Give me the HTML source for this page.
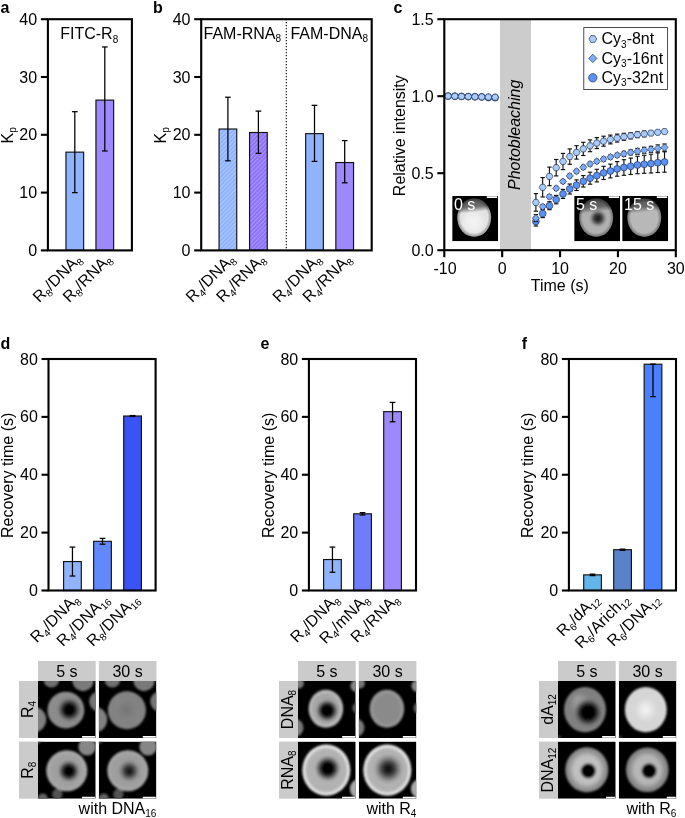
<!DOCTYPE html>
<html lang="en">
<head>
<meta charset="utf-8">
<title>Figure</title>
<style>
html,body{margin:0;padding:0;background:#fff;}
body{width:685px;height:818px;overflow:hidden;}
svg{display:block;font-family:"Liberation Sans",Arial,Helvetica,sans-serif;}
</style>
</head>
<body>
<svg width="685" height="818" viewBox="0 0 685 818">
<defs>
<pattern id="h1" width="3" height="3" patternUnits="userSpaceOnUse" patternTransform="rotate(45)"><rect width="3" height="3" fill="#8cb0fd"/><rect width="1.2" height="3" fill="#adc8ff"/></pattern>
<pattern id="h2" width="3" height="3" patternUnits="userSpaceOnUse" patternTransform="rotate(45)"><rect width="3" height="3" fill="#8b6ff8"/><rect width="1.2" height="3" fill="#aa95ff"/></pattern>
<clipPath id="clipf"><rect x="568.9" y="359" width="107.1" height="231.5"/></clipPath>
<filter id="bl" x="-20%" y="-20%" width="140%" height="140%"><feGaussianBlur stdDeviation="1.05"/></filter>
<filter id="bl2" x="-20%" y="-20%" width="140%" height="140%"><feGaussianBlur stdDeviation="0.7"/></filter>
<clipPath id="c1"><rect x="452.2" y="195.9" width="46" height="45.4"/></clipPath>
<linearGradient id="g1" x1="0.45" y1="0" x2="0.55" y2="1"><stop offset="0" stop-color="#585858"/><stop offset="0.22" stop-color="#6e6e6e"/><stop offset="0.36" stop-color="#e4e4e4"/><stop offset="1" stop-color="#e4e4e4"/></linearGradient>
<radialGradient id="g2" cx="0.5" cy="0.5" r="0.5"><stop offset="0" stop-color="rgba(0,0,0,0)"/><stop offset="0.8" stop-color="rgba(0,0,0,0)"/><stop offset="0.93" stop-color="rgba(0,0,0,0.25)"/><stop offset="1" stop-color="rgba(0,0,0,0.3)"/></radialGradient>
<radialGradient id="g3" cx="0.5" cy="0.5" r="0.5"><stop offset="0" stop-color="rgba(255,255,255,0.6)"/><stop offset="0.6" stop-color="rgba(255,255,255,0.36)"/><stop offset="1" stop-color="rgba(255,255,255,0)"/></radialGradient>
<clipPath id="c2"><rect x="574.2" y="195.9" width="46" height="45.4"/></clipPath>
<linearGradient id="g4" x1="0.45" y1="0" x2="0.55" y2="1"><stop offset="0" stop-color="#505050"/><stop offset="0.22" stop-color="#646464"/><stop offset="0.36" stop-color="#b0b0b0"/><stop offset="1" stop-color="#b0b0b0"/></linearGradient>
<radialGradient id="g5" cx="0.5" cy="0.5" r="0.5"><stop offset="0" stop-color="rgba(0,0,0,0)"/><stop offset="0.8" stop-color="rgba(0,0,0,0)"/><stop offset="0.93" stop-color="rgba(0,0,0,0.25)"/><stop offset="1" stop-color="rgba(0,0,0,0.3)"/></radialGradient>
<radialGradient id="g6" cx="0.5" cy="0.5" r="0.5"><stop offset="0" stop-color="rgba(0,0,0,0.8)"/><stop offset="0.2" stop-color="rgba(0,0,0,0.78)"/><stop offset="0.44" stop-color="rgba(0,0,0,0.58)"/><stop offset="0.64" stop-color="rgba(0,0,0,0.3)"/><stop offset="0.84" stop-color="rgba(0,0,0,0.08)"/><stop offset="1" stop-color="rgba(0,0,0,0)"/></radialGradient>
<clipPath id="c3"><rect x="622.2" y="195.9" width="46" height="45.4"/></clipPath>
<linearGradient id="g7" x1="0.45" y1="0" x2="0.55" y2="1"><stop offset="0" stop-color="#545454"/><stop offset="0.22" stop-color="#696969"/><stop offset="0.36" stop-color="#b8b8b8"/><stop offset="1" stop-color="#b8b8b8"/></linearGradient>
<radialGradient id="g8" cx="0.5" cy="0.5" r="0.5"><stop offset="0" stop-color="rgba(0,0,0,0)"/><stop offset="0.8" stop-color="rgba(0,0,0,0)"/><stop offset="0.93" stop-color="rgba(0,0,0,0.25)"/><stop offset="1" stop-color="rgba(0,0,0,0.3)"/></radialGradient>
<clipPath id="c4"><rect x="38" y="681" width="57.7" height="57"/></clipPath>
<radialGradient id="g9" cx="0.5" cy="0.5" r="0.5"><stop offset="0" stop-color="rgba(0,0,0,1)"/><stop offset="0.33" stop-color="rgba(0,0,0,0.97)"/><stop offset="0.53" stop-color="rgba(0,0,0,0.72)"/><stop offset="0.7" stop-color="rgba(0,0,0,0.38)"/><stop offset="0.87" stop-color="rgba(0,0,0,0.1)"/><stop offset="1" stop-color="rgba(0,0,0,0)"/></radialGradient>
<clipPath id="c5"><rect x="98.8" y="681" width="57.6" height="57"/></clipPath>
<radialGradient id="g10" cx="0.5" cy="0.5" r="0.5"><stop offset="0" stop-color="#767676"/><stop offset="0.55" stop-color="#838383"/><stop offset="1" stop-color="#838383"/></radialGradient>
<clipPath id="c6"><rect x="38" y="741.6" width="57.7" height="57.1"/></clipPath>
<radialGradient id="g11" cx="0.5" cy="0.5" r="0.5"><stop offset="0" stop-color="#a0a0a0"/><stop offset="0.72" stop-color="#a0a0a0"/><stop offset="0.92" stop-color="#a8a8a8"/><stop offset="1" stop-color="#a8a8a8"/></radialGradient>
<radialGradient id="g12" cx="0.5" cy="0.5" r="0.5"><stop offset="0" stop-color="rgba(0,0,0,1)"/><stop offset="0.33" stop-color="rgba(0,0,0,0.97)"/><stop offset="0.53" stop-color="rgba(0,0,0,0.72)"/><stop offset="0.7" stop-color="rgba(0,0,0,0.38)"/><stop offset="0.87" stop-color="rgba(0,0,0,0.1)"/><stop offset="1" stop-color="rgba(0,0,0,0)"/></radialGradient>
<clipPath id="c7"><rect x="98.8" y="741.6" width="57.6" height="57.1"/></clipPath>
<radialGradient id="g13" cx="0.5" cy="0.5" r="0.5"><stop offset="0" stop-color="#9e9e9e"/><stop offset="0.72" stop-color="#9e9e9e"/><stop offset="0.92" stop-color="#a6a6a6"/><stop offset="1" stop-color="#a6a6a6"/></radialGradient>
<radialGradient id="g14" cx="0.5" cy="0.5" r="0.5"><stop offset="0" stop-color="rgba(0,0,0,0.86)"/><stop offset="0.15" stop-color="rgba(0,0,0,0.83)"/><stop offset="0.41" stop-color="rgba(0,0,0,0.62)"/><stop offset="0.62" stop-color="rgba(0,0,0,0.33)"/><stop offset="0.83" stop-color="rgba(0,0,0,0.09)"/><stop offset="1" stop-color="rgba(0,0,0,0)"/></radialGradient>
<clipPath id="c8"><rect x="298" y="681" width="57.7" height="57"/></clipPath>
<radialGradient id="g15" cx="0.5" cy="0.5" r="0.5"><stop offset="0" stop-color="#a6a6a6"/><stop offset="0.72" stop-color="#a6a6a6"/><stop offset="0.92" stop-color="#bababa"/><stop offset="1" stop-color="#bababa"/></radialGradient>
<radialGradient id="g16" cx="0.5" cy="0.5" r="0.5"><stop offset="0" stop-color="rgba(0,0,0,1)"/><stop offset="0.4" stop-color="rgba(0,0,0,0.97)"/><stop offset="0.58" stop-color="rgba(0,0,0,0.72)"/><stop offset="0.73" stop-color="rgba(0,0,0,0.38)"/><stop offset="0.88" stop-color="rgba(0,0,0,0.1)"/><stop offset="1" stop-color="rgba(0,0,0,0)"/></radialGradient>
<clipPath id="c9"><rect x="358.8" y="681" width="57.6" height="57"/></clipPath>
<radialGradient id="g17" cx="0.5" cy="0.5" r="0.5"><stop offset="0" stop-color="#8a8a8a"/><stop offset="0.72" stop-color="#8a8a8a"/><stop offset="0.92" stop-color="#989898"/><stop offset="1" stop-color="#989898"/></radialGradient>
<clipPath id="c10"><rect x="298" y="741.6" width="57.7" height="57.1"/></clipPath>
<radialGradient id="g18" cx="0.5" cy="0.5" r="0.5"><stop offset="0" stop-color="#b2b2b2"/><stop offset="0.81" stop-color="#b2b2b2"/><stop offset="0.94" stop-color="#eaeaea"/><stop offset="1" stop-color="#eaeaea"/></radialGradient>
<radialGradient id="g19" cx="0.5" cy="0.5" r="0.5"><stop offset="0" stop-color="rgba(0,0,0,1)"/><stop offset="0.36" stop-color="rgba(0,0,0,0.97)"/><stop offset="0.55" stop-color="rgba(0,0,0,0.72)"/><stop offset="0.71" stop-color="rgba(0,0,0,0.38)"/><stop offset="0.87" stop-color="rgba(0,0,0,0.1)"/><stop offset="1" stop-color="rgba(0,0,0,0)"/></radialGradient>
<clipPath id="c11"><rect x="358.8" y="741.6" width="57.6" height="57.1"/></clipPath>
<radialGradient id="g20" cx="0.5" cy="0.5" r="0.5"><stop offset="0" stop-color="#b2b2b2"/><stop offset="0.81" stop-color="#b2b2b2"/><stop offset="0.94" stop-color="#eaeaea"/><stop offset="1" stop-color="#eaeaea"/></radialGradient>
<radialGradient id="g21" cx="0.5" cy="0.5" r="0.5"><stop offset="0" stop-color="rgba(0,0,0,0.9)"/><stop offset="0.15" stop-color="rgba(0,0,0,0.87)"/><stop offset="0.41" stop-color="rgba(0,0,0,0.65)"/><stop offset="0.62" stop-color="rgba(0,0,0,0.34)"/><stop offset="0.83" stop-color="rgba(0,0,0,0.09)"/><stop offset="1" stop-color="rgba(0,0,0,0)"/></radialGradient>
<clipPath id="c12"><rect x="558" y="681" width="57.7" height="57"/></clipPath>
<radialGradient id="g22" cx="0.5" cy="0.5" r="0.5" fx="0.3" fy="0.25"><stop offset="0" stop-color="#9e9e9e"/><stop offset="0.55" stop-color="#808080"/><stop offset="1" stop-color="#808080"/></radialGradient>
<radialGradient id="g23" cx="0.5" cy="0.5" r="0.5"><stop offset="0" stop-color="rgba(0,0,0,1)"/><stop offset="0.4" stop-color="rgba(0,0,0,0.97)"/><stop offset="0.58" stop-color="rgba(0,0,0,0.72)"/><stop offset="0.73" stop-color="rgba(0,0,0,0.38)"/><stop offset="0.88" stop-color="rgba(0,0,0,0.1)"/><stop offset="1" stop-color="rgba(0,0,0,0)"/></radialGradient>
<clipPath id="c13"><rect x="618.8" y="681" width="57.6" height="57"/></clipPath>
<radialGradient id="g24" cx="0.5" cy="0.5" r="0.5"><stop offset="0" stop-color="#f4f4f4"/><stop offset="0.55" stop-color="#d6d6d6"/><stop offset="1" stop-color="#d6d6d6"/></radialGradient>
<clipPath id="c14"><rect x="558" y="741.6" width="57.7" height="57.1"/></clipPath>
<radialGradient id="g25" cx="0.5" cy="0.5" r="0.5"><stop offset="0" stop-color="#c0c0c0"/><stop offset="0.6" stop-color="#c0c0c0"/><stop offset="0.88" stop-color="#8c8c8c"/><stop offset="1" stop-color="#8c8c8c"/></radialGradient>
<radialGradient id="g26" cx="0.5" cy="0.5" r="0.5"><stop offset="0" stop-color="rgba(0,0,0,1)"/><stop offset="0.68" stop-color="rgba(0,0,0,0.97)"/><stop offset="0.78" stop-color="rgba(0,0,0,0.72)"/><stop offset="0.86" stop-color="rgba(0,0,0,0.38)"/><stop offset="0.94" stop-color="rgba(0,0,0,0.1)"/><stop offset="1" stop-color="rgba(0,0,0,0)"/></radialGradient>
<clipPath id="c15"><rect x="618.8" y="741.6" width="57.6" height="57.1"/></clipPath>
<radialGradient id="g27" cx="0.5" cy="0.5" r="0.5"><stop offset="0" stop-color="#b6b6b6"/><stop offset="0.6" stop-color="#b6b6b6"/><stop offset="0.88" stop-color="#868686"/><stop offset="1" stop-color="#868686"/></radialGradient>
<radialGradient id="g28" cx="0.5" cy="0.5" r="0.5"><stop offset="0" stop-color="rgba(0,0,0,1)"/><stop offset="0.68" stop-color="rgba(0,0,0,0.97)"/><stop offset="0.78" stop-color="rgba(0,0,0,0.72)"/><stop offset="0.86" stop-color="rgba(0,0,0,0.38)"/><stop offset="0.94" stop-color="rgba(0,0,0,0.1)"/><stop offset="1" stop-color="rgba(0,0,0,0)"/></radialGradient>
</defs>
<rect width="685" height="818" fill="#fff"/>
<text font-size="16" font-weight="bold" x="0.6" y="12.9">a</text>
<rect x="65.95" y="152.14" width="17.7" height="98.26" fill="#91b3fd" stroke="#111" stroke-width="1.15"/>
<line x1="74.8" y1="111.68" x2="74.8" y2="192.6" stroke="#000" stroke-width="1.25"/>
<line x1="71.95" y1="111.68" x2="77.65" y2="111.68" stroke="#000" stroke-width="1.25"/>
<line x1="71.95" y1="192.6" x2="77.65" y2="192.6" stroke="#000" stroke-width="1.25"/>
<rect x="95.95" y="100.12" width="17.7" height="150.28" fill="#9d89fb" stroke="#111" stroke-width="1.15"/>
<line x1="104.8" y1="46.94" x2="104.8" y2="150.98" stroke="#000" stroke-width="1.25"/>
<line x1="101.95" y1="46.94" x2="107.65" y2="46.94" stroke="#000" stroke-width="1.25"/>
<line x1="101.95" y1="150.98" x2="107.65" y2="150.98" stroke="#000" stroke-width="1.25"/>
<rect x="47.9" y="19.2" width="84" height="231.2" fill="none" stroke="#000" stroke-width="2.1"/>
<line x1="40.9" y1="250.4" x2="47.9" y2="250.4" stroke="#000" stroke-width="2.1"/>
<text font-size="16" text-anchor="end" x="37.1" y="255.9">0</text>
<line x1="40.9" y1="192.6" x2="47.9" y2="192.6" stroke="#000" stroke-width="2.1"/>
<text font-size="16" text-anchor="end" x="37.1" y="198.1">10</text>
<line x1="40.9" y1="134.8" x2="47.9" y2="134.8" stroke="#000" stroke-width="2.1"/>
<text font-size="16" text-anchor="end" x="37.1" y="140.3">20</text>
<line x1="40.9" y1="77" x2="47.9" y2="77" stroke="#000" stroke-width="2.1"/>
<text font-size="16" text-anchor="end" x="37.1" y="82.5">30</text>
<line x1="40.9" y1="19.2" x2="47.9" y2="19.2" stroke="#000" stroke-width="2.1"/>
<text font-size="16" text-anchor="end" x="37.1" y="24.7">40</text>
<text font-size="16" text-anchor="middle" transform="translate(12.9 135.4) rotate(-90)">K<tspan font-size="10" dy="3.4">p</tspan></text>
<text font-size="16" text-anchor="end" transform="translate(82.3 260.2) rotate(-45)">R<tspan font-size="10" dy="3.4">8</tspan><tspan dy="-3.4">/DNA</tspan><tspan font-size="10" dy="3.4">8</tspan></text>
<text font-size="16" text-anchor="end" transform="translate(112.3 260.2) rotate(-45)">R<tspan font-size="10" dy="3.4">8</tspan><tspan dy="-3.4">/RNA</tspan><tspan font-size="10" dy="3.4">8</tspan></text>
<text font-size="16" text-anchor="middle" x="89.2" y="39.2">FITC-R<tspan font-size="10" dy="3.4">8</tspan></text>
<text font-size="16" font-weight="bold" x="153" y="12.9">b</text>
<rect x="219.05" y="129.02" width="17.7" height="121.38" fill="url(#h1)" stroke="#111" stroke-width="1.15"/>
<line x1="227.9" y1="97.23" x2="227.9" y2="160.81" stroke="#000" stroke-width="1.25"/>
<line x1="225.05" y1="97.23" x2="230.75" y2="97.23" stroke="#000" stroke-width="1.25"/>
<line x1="225.05" y1="160.81" x2="230.75" y2="160.81" stroke="#000" stroke-width="1.25"/>
<rect x="249.55" y="132.49" width="17.7" height="117.91" fill="url(#h2)" stroke="#111" stroke-width="1.15"/>
<line x1="258.4" y1="111.1" x2="258.4" y2="153.3" stroke="#000" stroke-width="1.25"/>
<line x1="255.55" y1="111.1" x2="261.25" y2="111.1" stroke="#000" stroke-width="1.25"/>
<line x1="255.55" y1="153.3" x2="261.25" y2="153.3" stroke="#000" stroke-width="1.25"/>
<rect x="305.65" y="133.64" width="17.7" height="116.76" fill="#91b3fd" stroke="#111" stroke-width="1.15"/>
<line x1="314.5" y1="105.32" x2="314.5" y2="161.39" stroke="#000" stroke-width="1.25"/>
<line x1="311.65" y1="105.32" x2="317.35" y2="105.32" stroke="#000" stroke-width="1.25"/>
<line x1="311.65" y1="161.39" x2="317.35" y2="161.39" stroke="#000" stroke-width="1.25"/>
<rect x="335.85" y="162.54" width="17.7" height="87.86" fill="#9d89fb" stroke="#111" stroke-width="1.15"/>
<line x1="344.7" y1="140.58" x2="344.7" y2="182.77" stroke="#000" stroke-width="1.25"/>
<line x1="341.85" y1="140.58" x2="347.55" y2="140.58" stroke="#000" stroke-width="1.25"/>
<line x1="341.85" y1="182.77" x2="347.55" y2="182.77" stroke="#000" stroke-width="1.25"/>
<rect x="201.2" y="19.2" width="170.5" height="231.2" fill="none" stroke="#000" stroke-width="2.1"/>
<line x1="194.2" y1="250.4" x2="201.2" y2="250.4" stroke="#000" stroke-width="2.1"/>
<text font-size="16" text-anchor="end" x="190.5" y="255.9">0</text>
<line x1="194.2" y1="192.6" x2="201.2" y2="192.6" stroke="#000" stroke-width="2.1"/>
<text font-size="16" text-anchor="end" x="190.5" y="198.1">10</text>
<line x1="194.2" y1="134.8" x2="201.2" y2="134.8" stroke="#000" stroke-width="2.1"/>
<text font-size="16" text-anchor="end" x="190.5" y="140.3">20</text>
<line x1="194.2" y1="77" x2="201.2" y2="77" stroke="#000" stroke-width="2.1"/>
<text font-size="16" text-anchor="end" x="190.5" y="82.5">30</text>
<line x1="194.2" y1="19.2" x2="201.2" y2="19.2" stroke="#000" stroke-width="2.1"/>
<text font-size="16" text-anchor="end" x="190.5" y="24.7">40</text>
<text font-size="16" text-anchor="middle" transform="translate(165.6 135.4) rotate(-90)">K<tspan font-size="10" dy="3.4">p</tspan></text>
<text font-size="16" text-anchor="end" transform="translate(235.4 260.2) rotate(-45)">R<tspan font-size="10" dy="3.4">4</tspan><tspan dy="-3.4">/DNA</tspan><tspan font-size="10" dy="3.4">8</tspan></text>
<text font-size="16" text-anchor="end" transform="translate(265.9 260.2) rotate(-45)">R<tspan font-size="10" dy="3.4">4</tspan><tspan dy="-3.4">/RNA</tspan><tspan font-size="10" dy="3.4">8</tspan></text>
<text font-size="16" text-anchor="end" transform="translate(322 260.2) rotate(-45)">R<tspan font-size="10" dy="3.4">4</tspan><tspan dy="-3.4">/DNA</tspan><tspan font-size="10" dy="3.4">8</tspan></text>
<text font-size="16" text-anchor="end" transform="translate(352.2 260.2) rotate(-45)">R<tspan font-size="10" dy="3.4">4</tspan><tspan dy="-3.4">/RNA</tspan><tspan font-size="10" dy="3.4">8</tspan></text>
<line x1="286.3" y1="19" x2="286.3" y2="250" stroke="#000" stroke-width="1.1" stroke-dasharray="1.3 1.7"/>
<text font-size="16" text-anchor="middle" x="242.3" y="39">FAM-RNA<tspan font-size="10" dy="3.4">8</tspan></text>
<text font-size="16" text-anchor="middle" x="329.2" y="39">FAM-DNA<tspan font-size="10" dy="3.4">8</tspan></text>
<text font-size="16" font-weight="bold" x="0.6" y="348.9">d</text>
<rect x="63.6" y="561.56" width="17.7" height="28.94" fill="#91b3fd" stroke="#111" stroke-width="1.15"/>
<line x1="72.45" y1="547.09" x2="72.45" y2="576.03" stroke="#000" stroke-width="1.25"/>
<line x1="69.6" y1="547.09" x2="75.3" y2="547.09" stroke="#000" stroke-width="1.25"/>
<line x1="69.6" y1="576.03" x2="75.3" y2="576.03" stroke="#000" stroke-width="1.25"/>
<rect x="93.65" y="541.31" width="17.7" height="49.19" fill="#6289fb" stroke="#111" stroke-width="1.15"/>
<line x1="102.5" y1="538.41" x2="102.5" y2="544.2" stroke="#000" stroke-width="1.25"/>
<line x1="99.65" y1="538.41" x2="105.35" y2="538.41" stroke="#000" stroke-width="1.25"/>
<line x1="99.65" y1="544.2" x2="105.35" y2="544.2" stroke="#000" stroke-width="1.25"/>
<rect x="123.7" y="416.01" width="17.7" height="174.49" fill="#3b53f5" stroke="#111" stroke-width="1.15"/>
<line x1="132.55" y1="415.57" x2="132.55" y2="416.44" stroke="#000" stroke-width="1.25"/>
<line x1="129.7" y1="415.57" x2="135.4" y2="415.57" stroke="#000" stroke-width="1.25"/>
<line x1="129.7" y1="416.44" x2="135.4" y2="416.44" stroke="#000" stroke-width="1.25"/>
<rect x="48.5" y="359" width="107.1" height="231.5" fill="none" stroke="#000" stroke-width="2.1"/>
<line x1="41.5" y1="590.5" x2="48.5" y2="590.5" stroke="#000" stroke-width="2.1"/>
<text font-size="16" text-anchor="end" x="37.8" y="596">0</text>
<line x1="41.5" y1="532.62" x2="48.5" y2="532.62" stroke="#000" stroke-width="2.1"/>
<text font-size="16" text-anchor="end" x="37.8" y="538.12">20</text>
<line x1="41.5" y1="474.75" x2="48.5" y2="474.75" stroke="#000" stroke-width="2.1"/>
<text font-size="16" text-anchor="end" x="37.8" y="480.25">40</text>
<line x1="41.5" y1="416.88" x2="48.5" y2="416.88" stroke="#000" stroke-width="2.1"/>
<text font-size="16" text-anchor="end" x="37.8" y="422.38">60</text>
<line x1="41.5" y1="359" x2="48.5" y2="359" stroke="#000" stroke-width="2.1"/>
<text font-size="16" text-anchor="end" x="37.8" y="364.5">80</text>
<text font-size="16" text-anchor="middle" transform="translate(13 475.35) rotate(-90)">Recovery time (s)</text>
<text font-size="16" text-anchor="end" transform="translate(79.95 600.3) rotate(-45)">R<tspan font-size="10" dy="3.4">4</tspan><tspan dy="-3.4">/DNA</tspan><tspan font-size="10" dy="3.4">8</tspan></text>
<text font-size="16" text-anchor="end" transform="translate(110 600.3) rotate(-45)">R<tspan font-size="10" dy="3.4">4</tspan><tspan dy="-3.4">/DNA</tspan><tspan font-size="10" dy="3.4">16</tspan></text>
<text font-size="16" text-anchor="end" transform="translate(140.05 600.3) rotate(-45)">R<tspan font-size="10" dy="3.4">8</tspan><tspan dy="-3.4">/DNA</tspan><tspan font-size="10" dy="3.4">16</tspan></text>
<text font-size="16" font-weight="bold" x="260.5" y="348.9">e</text>
<rect x="323.6" y="559.54" width="17.7" height="30.96" fill="#91b3fd" stroke="#111" stroke-width="1.15"/>
<line x1="332.45" y1="547.09" x2="332.45" y2="572.27" stroke="#000" stroke-width="1.25"/>
<line x1="329.6" y1="547.09" x2="335.3" y2="547.09" stroke="#000" stroke-width="1.25"/>
<line x1="329.6" y1="572.27" x2="335.3" y2="572.27" stroke="#000" stroke-width="1.25"/>
<rect x="353.7" y="513.82" width="17.7" height="76.68" fill="#6f7dfa" stroke="#111" stroke-width="1.15"/>
<line x1="362.55" y1="512.66" x2="362.55" y2="514.97" stroke="#000" stroke-width="1.25"/>
<line x1="359.7" y1="512.66" x2="365.4" y2="512.66" stroke="#000" stroke-width="1.25"/>
<line x1="359.7" y1="514.97" x2="365.4" y2="514.97" stroke="#000" stroke-width="1.25"/>
<rect x="383.7" y="411.67" width="17.7" height="178.83" fill="#9d89fb" stroke="#111" stroke-width="1.15"/>
<line x1="392.55" y1="402.41" x2="392.55" y2="421.79" stroke="#000" stroke-width="1.25"/>
<line x1="389.7" y1="402.41" x2="395.4" y2="402.41" stroke="#000" stroke-width="1.25"/>
<line x1="389.7" y1="421.79" x2="395.4" y2="421.79" stroke="#000" stroke-width="1.25"/>
<rect x="308.9" y="359" width="107.1" height="231.5" fill="none" stroke="#000" stroke-width="2.1"/>
<line x1="301.9" y1="590.5" x2="308.9" y2="590.5" stroke="#000" stroke-width="2.1"/>
<text font-size="16" text-anchor="end" x="298.2" y="596">0</text>
<line x1="301.9" y1="532.62" x2="308.9" y2="532.62" stroke="#000" stroke-width="2.1"/>
<text font-size="16" text-anchor="end" x="298.2" y="538.12">20</text>
<line x1="301.9" y1="474.75" x2="308.9" y2="474.75" stroke="#000" stroke-width="2.1"/>
<text font-size="16" text-anchor="end" x="298.2" y="480.25">40</text>
<line x1="301.9" y1="416.88" x2="308.9" y2="416.88" stroke="#000" stroke-width="2.1"/>
<text font-size="16" text-anchor="end" x="298.2" y="422.38">60</text>
<line x1="301.9" y1="359" x2="308.9" y2="359" stroke="#000" stroke-width="2.1"/>
<text font-size="16" text-anchor="end" x="298.2" y="364.5">80</text>
<text font-size="16" text-anchor="middle" transform="translate(273.5 475.35) rotate(-90)">Recovery time (s)</text>
<text font-size="16" text-anchor="end" transform="translate(339.95 600.3) rotate(-45)">R<tspan font-size="10" dy="3.4">4</tspan><tspan dy="-3.4">/DNA</tspan><tspan font-size="10" dy="3.4">8</tspan></text>
<text font-size="16" text-anchor="end" transform="translate(370.05 600.3) rotate(-45)">R<tspan font-size="10" dy="3.4">4</tspan><tspan dy="-3.4">/mNA</tspan><tspan font-size="10" dy="3.4">8</tspan></text>
<text font-size="16" text-anchor="end" transform="translate(400.05 600.3) rotate(-45)">R<tspan font-size="10" dy="3.4">4</tspan><tspan dy="-3.4">/RNA</tspan><tspan font-size="10" dy="3.4">8</tspan></text>
<text font-size="16" font-weight="bold" x="521.7" y="348.9">f</text>
<g clip-path="url(#clipf)">
<rect x="583.7" y="574.87" width="17.7" height="15.63" fill="#62b5e8" stroke="#111" stroke-width="1.15"/>
<line x1="592.55" y1="574.01" x2="592.55" y2="575.74" stroke="#000" stroke-width="1.25"/>
<line x1="589.7" y1="574.01" x2="595.4" y2="574.01" stroke="#000" stroke-width="1.25"/>
<line x1="589.7" y1="575.74" x2="595.4" y2="575.74" stroke="#000" stroke-width="1.25"/>
<rect x="613.7" y="549.7" width="17.7" height="40.8" fill="#5a82c8" stroke="#111" stroke-width="1.15"/>
<line x1="622.55" y1="549.12" x2="622.55" y2="550.28" stroke="#000" stroke-width="1.25"/>
<line x1="619.7" y1="549.12" x2="625.4" y2="549.12" stroke="#000" stroke-width="1.25"/>
<line x1="619.7" y1="550.28" x2="625.4" y2="550.28" stroke="#000" stroke-width="1.25"/>
<rect x="644.15" y="364.21" width="17.7" height="226.29" fill="#4b80fc" stroke="#111" stroke-width="1.15"/>
<line x1="653" y1="364.21" x2="653" y2="396.62" stroke="#000" stroke-width="1.25"/>
<line x1="650.15" y1="364.21" x2="655.85" y2="364.21" stroke="#000" stroke-width="1.25"/>
<line x1="650.15" y1="396.62" x2="655.85" y2="396.62" stroke="#000" stroke-width="1.25"/>
</g>
<rect x="568.9" y="359" width="107.1" height="231.5" fill="none" stroke="#000" stroke-width="2.1"/>
<line x1="561.9" y1="590.5" x2="568.9" y2="590.5" stroke="#000" stroke-width="2.1"/>
<text font-size="16" text-anchor="end" x="558.2" y="596">0</text>
<line x1="561.9" y1="532.62" x2="568.9" y2="532.62" stroke="#000" stroke-width="2.1"/>
<text font-size="16" text-anchor="end" x="558.2" y="538.12">20</text>
<line x1="561.9" y1="474.75" x2="568.9" y2="474.75" stroke="#000" stroke-width="2.1"/>
<text font-size="16" text-anchor="end" x="558.2" y="480.25">40</text>
<line x1="561.9" y1="416.88" x2="568.9" y2="416.88" stroke="#000" stroke-width="2.1"/>
<text font-size="16" text-anchor="end" x="558.2" y="422.38">60</text>
<line x1="561.9" y1="359" x2="568.9" y2="359" stroke="#000" stroke-width="2.1"/>
<text font-size="16" text-anchor="end" x="558.2" y="364.5">80</text>
<text font-size="16" text-anchor="middle" transform="translate(533 475.35) rotate(-90)">Recovery time (s)</text>
<text font-size="16" text-anchor="end" transform="translate(600.05 600.3) rotate(-45)">R<tspan font-size="10" dy="3.4">6</tspan><tspan dy="-3.4">/dA</tspan><tspan font-size="10" dy="3.4">12</tspan></text>
<text font-size="16" text-anchor="end" transform="translate(630.05 600.3) rotate(-45)">R<tspan font-size="10" dy="3.4">6</tspan><tspan dy="-3.4">/Arich</tspan><tspan font-size="10" dy="3.4">12</tspan></text>
<text font-size="16" text-anchor="end" transform="translate(660.5 600.3) rotate(-45)">R<tspan font-size="10" dy="3.4">6</tspan><tspan dy="-3.4">/DNA</tspan><tspan font-size="10" dy="3.4">12</tspan></text>
<text font-size="16" font-weight="bold" x="393.5" y="12.9">c</text>
<rect x="500" y="19.2" width="31" height="231" fill="#cccccc"/>
<text font-size="16" text-anchor="middle" font-style="italic" transform="translate(520.44 134.8) rotate(-90)">Photobleaching</text>
<circle cx="448.1" cy="96.1" r="3.4" fill="#5b92f4" stroke="#26355c" stroke-width="0.7"/>
<circle cx="454.81" cy="96.26" r="3.4" fill="#5b92f4" stroke="#26355c" stroke-width="0.7"/>
<circle cx="461.53" cy="96.42" r="3.4" fill="#5b92f4" stroke="#26355c" stroke-width="0.7"/>
<circle cx="468.25" cy="96.58" r="3.4" fill="#5b92f4" stroke="#26355c" stroke-width="0.7"/>
<circle cx="474.96" cy="96.74" r="3.4" fill="#5b92f4" stroke="#26355c" stroke-width="0.7"/>
<circle cx="481.68" cy="96.9" r="3.4" fill="#5b92f4" stroke="#26355c" stroke-width="0.7"/>
<circle cx="488.39" cy="97.56" r="3.4" fill="#5b92f4" stroke="#26355c" stroke-width="0.7"/>
<circle cx="495.11" cy="97.72" r="3.4" fill="#5b92f4" stroke="#26355c" stroke-width="0.7"/>
<polygon points="448.1,92.6 451.6,96.1 448.1,99.6 444.6,96.1" fill="#7eacf7" stroke="#26355c" stroke-width="0.7"/>
<polygon points="454.81,92.76 458.31,96.26 454.81,99.76 451.31,96.26" fill="#7eacf7" stroke="#26355c" stroke-width="0.7"/>
<polygon points="461.53,92.92 465.03,96.42 461.53,99.92 458.03,96.42" fill="#7eacf7" stroke="#26355c" stroke-width="0.7"/>
<polygon points="468.25,93.08 471.75,96.58 468.25,100.08 464.75,96.58" fill="#7eacf7" stroke="#26355c" stroke-width="0.7"/>
<polygon points="474.96,93.24 478.46,96.74 474.96,100.24 471.46,96.74" fill="#7eacf7" stroke="#26355c" stroke-width="0.7"/>
<polygon points="481.68,93.4 485.18,96.9 481.68,100.4 478.18,96.9" fill="#7eacf7" stroke="#26355c" stroke-width="0.7"/>
<polygon points="488.39,93.56 491.89,97.06 488.39,100.56 484.89,97.06" fill="#7eacf7" stroke="#26355c" stroke-width="0.7"/>
<polygon points="495.11,93.72 498.61,97.22 495.11,100.72 491.61,97.22" fill="#7eacf7" stroke="#26355c" stroke-width="0.7"/>
<polygon points="451.6,96.1 449.85,99.13 446.35,99.13 444.6,96.1 446.35,93.07 449.85,93.07" fill="#a9ccfb" stroke="#26355c" stroke-width="0.7"/>
<polygon points="458.31,96.26 456.56,99.29 453.06,99.29 451.31,96.26 453.06,93.23 456.56,93.23" fill="#a9ccfb" stroke="#26355c" stroke-width="0.7"/>
<polygon points="465.03,96.42 463.28,99.45 459.78,99.45 458.03,96.42 459.78,93.39 463.28,93.39" fill="#a9ccfb" stroke="#26355c" stroke-width="0.7"/>
<polygon points="471.75,96.58 470,99.61 466.5,99.61 464.75,96.58 466.5,93.55 470,93.55" fill="#a9ccfb" stroke="#26355c" stroke-width="0.7"/>
<polygon points="478.46,96.74 476.71,99.77 473.21,99.77 471.46,96.74 473.21,93.71 476.71,93.71" fill="#a9ccfb" stroke="#26355c" stroke-width="0.7"/>
<polygon points="485.18,96.9 483.43,99.93 479.93,99.93 478.18,96.9 479.93,93.87 483.43,93.87" fill="#a9ccfb" stroke="#26355c" stroke-width="0.7"/>
<polygon points="491.89,97.06 490.14,100.09 486.64,100.09 484.89,97.06 486.64,94.03 490.14,94.03" fill="#a9ccfb" stroke="#26355c" stroke-width="0.7"/>
<polygon points="498.61,97.22 496.86,100.25 493.36,100.25 491.61,97.22 493.36,94.19 496.86,94.19" fill="#a9ccfb" stroke="#26355c" stroke-width="0.7"/>
<line x1="535.9" y1="217" x2="535.9" y2="226" stroke="#111" stroke-width="1.15"/>
<line x1="533.7" y1="217" x2="538.1" y2="217" stroke="#111" stroke-width="1.15"/>
<line x1="533.7" y1="226" x2="538.1" y2="226" stroke="#111" stroke-width="1.15"/>
<line x1="542.67" y1="209.6" x2="542.67" y2="217.6" stroke="#111" stroke-width="1.15"/>
<line x1="540.47" y1="209.6" x2="544.87" y2="209.6" stroke="#111" stroke-width="1.15"/>
<line x1="540.47" y1="217.6" x2="544.87" y2="217.6" stroke="#111" stroke-width="1.15"/>
<line x1="549.44" y1="201.7" x2="549.44" y2="209.7" stroke="#111" stroke-width="1.15"/>
<line x1="547.24" y1="201.7" x2="551.64" y2="201.7" stroke="#111" stroke-width="1.15"/>
<line x1="547.24" y1="209.7" x2="551.64" y2="209.7" stroke="#111" stroke-width="1.15"/>
<line x1="556.21" y1="195.4" x2="556.21" y2="203.8" stroke="#111" stroke-width="1.15"/>
<line x1="554.01" y1="195.4" x2="558.41" y2="195.4" stroke="#111" stroke-width="1.15"/>
<line x1="554.01" y1="203.8" x2="558.41" y2="203.8" stroke="#111" stroke-width="1.15"/>
<line x1="562.98" y1="189.4" x2="562.98" y2="198.4" stroke="#111" stroke-width="1.15"/>
<line x1="560.78" y1="189.4" x2="565.18" y2="189.4" stroke="#111" stroke-width="1.15"/>
<line x1="560.78" y1="198.4" x2="565.18" y2="198.4" stroke="#111" stroke-width="1.15"/>
<line x1="569.75" y1="184" x2="569.75" y2="194" stroke="#111" stroke-width="1.15"/>
<line x1="567.55" y1="184" x2="571.95" y2="184" stroke="#111" stroke-width="1.15"/>
<line x1="567.55" y1="194" x2="571.95" y2="194" stroke="#111" stroke-width="1.15"/>
<line x1="576.52" y1="179.9" x2="576.52" y2="190.5" stroke="#111" stroke-width="1.15"/>
<line x1="574.32" y1="179.9" x2="578.72" y2="179.9" stroke="#111" stroke-width="1.15"/>
<line x1="574.32" y1="190.5" x2="578.72" y2="190.5" stroke="#111" stroke-width="1.15"/>
<line x1="583.29" y1="175.6" x2="583.29" y2="187" stroke="#111" stroke-width="1.15"/>
<line x1="581.09" y1="175.6" x2="585.49" y2="175.6" stroke="#111" stroke-width="1.15"/>
<line x1="581.09" y1="187" x2="585.49" y2="187" stroke="#111" stroke-width="1.15"/>
<line x1="590.06" y1="172.2" x2="590.06" y2="184.2" stroke="#111" stroke-width="1.15"/>
<line x1="587.86" y1="172.2" x2="592.26" y2="172.2" stroke="#111" stroke-width="1.15"/>
<line x1="587.86" y1="184.2" x2="592.26" y2="184.2" stroke="#111" stroke-width="1.15"/>
<line x1="596.83" y1="169.3" x2="596.83" y2="181.9" stroke="#111" stroke-width="1.15"/>
<line x1="594.63" y1="169.3" x2="599.03" y2="169.3" stroke="#111" stroke-width="1.15"/>
<line x1="594.63" y1="181.9" x2="599.03" y2="181.9" stroke="#111" stroke-width="1.15"/>
<line x1="603.6" y1="166.3" x2="603.6" y2="179.5" stroke="#111" stroke-width="1.15"/>
<line x1="601.4" y1="166.3" x2="605.8" y2="166.3" stroke="#111" stroke-width="1.15"/>
<line x1="601.4" y1="179.5" x2="605.8" y2="179.5" stroke="#111" stroke-width="1.15"/>
<line x1="610.37" y1="164.1" x2="610.37" y2="177.9" stroke="#111" stroke-width="1.15"/>
<line x1="608.17" y1="164.1" x2="612.57" y2="164.1" stroke="#111" stroke-width="1.15"/>
<line x1="608.17" y1="177.9" x2="612.57" y2="177.9" stroke="#111" stroke-width="1.15"/>
<line x1="617.14" y1="161.6" x2="617.14" y2="176.2" stroke="#111" stroke-width="1.15"/>
<line x1="614.94" y1="161.6" x2="619.34" y2="161.6" stroke="#111" stroke-width="1.15"/>
<line x1="614.94" y1="176.2" x2="619.34" y2="176.2" stroke="#111" stroke-width="1.15"/>
<line x1="623.91" y1="159.7" x2="623.91" y2="175.3" stroke="#111" stroke-width="1.15"/>
<line x1="621.71" y1="159.7" x2="626.11" y2="159.7" stroke="#111" stroke-width="1.15"/>
<line x1="621.71" y1="175.3" x2="626.11" y2="175.3" stroke="#111" stroke-width="1.15"/>
<line x1="630.68" y1="158.1" x2="630.68" y2="174.5" stroke="#111" stroke-width="1.15"/>
<line x1="628.48" y1="158.1" x2="632.88" y2="158.1" stroke="#111" stroke-width="1.15"/>
<line x1="628.48" y1="174.5" x2="632.88" y2="174.5" stroke="#111" stroke-width="1.15"/>
<line x1="637.45" y1="156.3" x2="637.45" y2="173.7" stroke="#111" stroke-width="1.15"/>
<line x1="635.25" y1="156.3" x2="639.65" y2="156.3" stroke="#111" stroke-width="1.15"/>
<line x1="635.25" y1="173.7" x2="639.65" y2="173.7" stroke="#111" stroke-width="1.15"/>
<line x1="644.22" y1="155.3" x2="644.22" y2="173.3" stroke="#111" stroke-width="1.15"/>
<line x1="642.02" y1="155.3" x2="646.42" y2="155.3" stroke="#111" stroke-width="1.15"/>
<line x1="642.02" y1="173.3" x2="646.42" y2="173.3" stroke="#111" stroke-width="1.15"/>
<line x1="650.99" y1="154.2" x2="650.99" y2="173" stroke="#111" stroke-width="1.15"/>
<line x1="648.79" y1="154.2" x2="653.19" y2="154.2" stroke="#111" stroke-width="1.15"/>
<line x1="648.79" y1="173" x2="653.19" y2="173" stroke="#111" stroke-width="1.15"/>
<line x1="657.76" y1="152.9" x2="657.76" y2="172.5" stroke="#111" stroke-width="1.15"/>
<line x1="655.56" y1="152.9" x2="659.96" y2="152.9" stroke="#111" stroke-width="1.15"/>
<line x1="655.56" y1="172.5" x2="659.96" y2="172.5" stroke="#111" stroke-width="1.15"/>
<line x1="664.53" y1="151.8" x2="664.53" y2="172.2" stroke="#111" stroke-width="1.15"/>
<line x1="662.33" y1="151.8" x2="666.73" y2="151.8" stroke="#111" stroke-width="1.15"/>
<line x1="662.33" y1="172.2" x2="666.73" y2="172.2" stroke="#111" stroke-width="1.15"/>
<circle cx="535.9" cy="221.5" r="3.4" fill="#5b92f4" stroke="#26355c" stroke-width="0.7"/>
<circle cx="542.67" cy="213.6" r="3.4" fill="#5b92f4" stroke="#26355c" stroke-width="0.7"/>
<circle cx="549.44" cy="205.7" r="3.4" fill="#5b92f4" stroke="#26355c" stroke-width="0.7"/>
<circle cx="556.21" cy="199.6" r="3.4" fill="#5b92f4" stroke="#26355c" stroke-width="0.7"/>
<circle cx="562.98" cy="193.9" r="3.4" fill="#5b92f4" stroke="#26355c" stroke-width="0.7"/>
<circle cx="569.75" cy="189" r="3.4" fill="#5b92f4" stroke="#26355c" stroke-width="0.7"/>
<circle cx="576.52" cy="185.2" r="3.4" fill="#5b92f4" stroke="#26355c" stroke-width="0.7"/>
<circle cx="583.29" cy="181.3" r="3.4" fill="#5b92f4" stroke="#26355c" stroke-width="0.7"/>
<circle cx="590.06" cy="178.2" r="3.4" fill="#5b92f4" stroke="#26355c" stroke-width="0.7"/>
<circle cx="596.83" cy="175.6" r="3.4" fill="#5b92f4" stroke="#26355c" stroke-width="0.7"/>
<circle cx="603.6" cy="172.9" r="3.4" fill="#5b92f4" stroke="#26355c" stroke-width="0.7"/>
<circle cx="610.37" cy="171" r="3.4" fill="#5b92f4" stroke="#26355c" stroke-width="0.7"/>
<circle cx="617.14" cy="168.9" r="3.4" fill="#5b92f4" stroke="#26355c" stroke-width="0.7"/>
<circle cx="623.91" cy="167.5" r="3.4" fill="#5b92f4" stroke="#26355c" stroke-width="0.7"/>
<circle cx="630.68" cy="166.3" r="3.4" fill="#5b92f4" stroke="#26355c" stroke-width="0.7"/>
<circle cx="637.45" cy="165" r="3.4" fill="#5b92f4" stroke="#26355c" stroke-width="0.7"/>
<circle cx="644.22" cy="164.3" r="3.4" fill="#5b92f4" stroke="#26355c" stroke-width="0.7"/>
<circle cx="650.99" cy="163.6" r="3.4" fill="#5b92f4" stroke="#26355c" stroke-width="0.7"/>
<circle cx="657.76" cy="162.7" r="3.4" fill="#5b92f4" stroke="#26355c" stroke-width="0.7"/>
<circle cx="664.53" cy="162" r="3.4" fill="#5b92f4" stroke="#26355c" stroke-width="0.7"/>
<line x1="535.9" y1="214.6" x2="535.9" y2="221.6" stroke="#111" stroke-width="1.15"/>
<line x1="533.7" y1="214.6" x2="538.1" y2="214.6" stroke="#111" stroke-width="1.15"/>
<line x1="533.7" y1="221.6" x2="538.1" y2="221.6" stroke="#111" stroke-width="1.15"/>
<line x1="542.67" y1="204.6" x2="542.67" y2="208.6" stroke="#111" stroke-width="1.15"/>
<line x1="540.47" y1="204.6" x2="544.87" y2="204.6" stroke="#111" stroke-width="1.15"/>
<line x1="540.47" y1="208.6" x2="544.87" y2="208.6" stroke="#111" stroke-width="1.15"/>
<line x1="549.44" y1="194.7" x2="549.44" y2="198.7" stroke="#111" stroke-width="1.15"/>
<line x1="547.24" y1="194.7" x2="551.64" y2="194.7" stroke="#111" stroke-width="1.15"/>
<line x1="547.24" y1="198.7" x2="551.64" y2="198.7" stroke="#111" stroke-width="1.15"/>
<line x1="556.21" y1="186.3" x2="556.21" y2="190.3" stroke="#111" stroke-width="1.15"/>
<line x1="554.01" y1="186.3" x2="558.41" y2="186.3" stroke="#111" stroke-width="1.15"/>
<line x1="554.01" y1="190.3" x2="558.41" y2="190.3" stroke="#111" stroke-width="1.15"/>
<line x1="562.98" y1="179.5" x2="562.98" y2="183.5" stroke="#111" stroke-width="1.15"/>
<line x1="560.78" y1="179.5" x2="565.18" y2="179.5" stroke="#111" stroke-width="1.15"/>
<line x1="560.78" y1="183.5" x2="565.18" y2="183.5" stroke="#111" stroke-width="1.15"/>
<line x1="569.75" y1="173.9" x2="569.75" y2="177.9" stroke="#111" stroke-width="1.15"/>
<line x1="567.55" y1="173.9" x2="571.95" y2="173.9" stroke="#111" stroke-width="1.15"/>
<line x1="567.55" y1="177.9" x2="571.95" y2="177.9" stroke="#111" stroke-width="1.15"/>
<line x1="576.52" y1="169.3" x2="576.52" y2="173.3" stroke="#111" stroke-width="1.15"/>
<line x1="574.32" y1="169.3" x2="578.72" y2="169.3" stroke="#111" stroke-width="1.15"/>
<line x1="574.32" y1="173.3" x2="578.72" y2="173.3" stroke="#111" stroke-width="1.15"/>
<line x1="583.29" y1="165.3" x2="583.29" y2="169.3" stroke="#111" stroke-width="1.15"/>
<line x1="581.09" y1="165.3" x2="585.49" y2="165.3" stroke="#111" stroke-width="1.15"/>
<line x1="581.09" y1="169.3" x2="585.49" y2="169.3" stroke="#111" stroke-width="1.15"/>
<line x1="590.06" y1="162" x2="590.06" y2="166" stroke="#111" stroke-width="1.15"/>
<line x1="587.86" y1="162" x2="592.26" y2="162" stroke="#111" stroke-width="1.15"/>
<line x1="587.86" y1="166" x2="592.26" y2="166" stroke="#111" stroke-width="1.15"/>
<line x1="596.83" y1="159.4" x2="596.83" y2="163.4" stroke="#111" stroke-width="1.15"/>
<line x1="594.63" y1="159.4" x2="599.03" y2="159.4" stroke="#111" stroke-width="1.15"/>
<line x1="594.63" y1="163.4" x2="599.03" y2="163.4" stroke="#111" stroke-width="1.15"/>
<line x1="603.6" y1="157.1" x2="603.6" y2="161.1" stroke="#111" stroke-width="1.15"/>
<line x1="601.4" y1="157.1" x2="605.8" y2="157.1" stroke="#111" stroke-width="1.15"/>
<line x1="601.4" y1="161.1" x2="605.8" y2="161.1" stroke="#111" stroke-width="1.15"/>
<line x1="610.37" y1="155" x2="610.37" y2="159" stroke="#111" stroke-width="1.15"/>
<line x1="608.17" y1="155" x2="612.57" y2="155" stroke="#111" stroke-width="1.15"/>
<line x1="608.17" y1="159" x2="612.57" y2="159" stroke="#111" stroke-width="1.15"/>
<line x1="617.14" y1="153.2" x2="617.14" y2="157.2" stroke="#111" stroke-width="1.15"/>
<line x1="614.94" y1="153.2" x2="619.34" y2="153.2" stroke="#111" stroke-width="1.15"/>
<line x1="614.94" y1="157.2" x2="619.34" y2="157.2" stroke="#111" stroke-width="1.15"/>
<line x1="623.91" y1="151.3" x2="623.91" y2="156.3" stroke="#111" stroke-width="1.15"/>
<line x1="621.71" y1="151.3" x2="626.11" y2="151.3" stroke="#111" stroke-width="1.15"/>
<line x1="621.71" y1="156.3" x2="626.11" y2="156.3" stroke="#111" stroke-width="1.15"/>
<line x1="630.68" y1="149.9" x2="630.68" y2="154.9" stroke="#111" stroke-width="1.15"/>
<line x1="628.48" y1="149.9" x2="632.88" y2="149.9" stroke="#111" stroke-width="1.15"/>
<line x1="628.48" y1="154.9" x2="632.88" y2="154.9" stroke="#111" stroke-width="1.15"/>
<line x1="637.45" y1="148.4" x2="637.45" y2="154.4" stroke="#111" stroke-width="1.15"/>
<line x1="635.25" y1="148.4" x2="639.65" y2="148.4" stroke="#111" stroke-width="1.15"/>
<line x1="635.25" y1="154.4" x2="639.65" y2="154.4" stroke="#111" stroke-width="1.15"/>
<line x1="644.22" y1="147.3" x2="644.22" y2="153.3" stroke="#111" stroke-width="1.15"/>
<line x1="642.02" y1="147.3" x2="646.42" y2="147.3" stroke="#111" stroke-width="1.15"/>
<line x1="642.02" y1="153.3" x2="646.42" y2="153.3" stroke="#111" stroke-width="1.15"/>
<line x1="650.99" y1="146.3" x2="650.99" y2="152.3" stroke="#111" stroke-width="1.15"/>
<line x1="648.79" y1="146.3" x2="653.19" y2="146.3" stroke="#111" stroke-width="1.15"/>
<line x1="648.79" y1="152.3" x2="653.19" y2="152.3" stroke="#111" stroke-width="1.15"/>
<line x1="657.76" y1="144.9" x2="657.76" y2="151.9" stroke="#111" stroke-width="1.15"/>
<line x1="655.56" y1="144.9" x2="659.96" y2="144.9" stroke="#111" stroke-width="1.15"/>
<line x1="655.56" y1="151.9" x2="659.96" y2="151.9" stroke="#111" stroke-width="1.15"/>
<line x1="664.53" y1="144" x2="664.53" y2="151" stroke="#111" stroke-width="1.15"/>
<line x1="662.33" y1="144" x2="666.73" y2="144" stroke="#111" stroke-width="1.15"/>
<line x1="662.33" y1="151" x2="666.73" y2="151" stroke="#111" stroke-width="1.15"/>
<polygon points="535.9,214.5 539.5,218.1 535.9,221.7 532.3,218.1" fill="#7eacf7" stroke="#26355c" stroke-width="0.7"/>
<polygon points="542.67,203 546.27,206.6 542.67,210.2 539.07,206.6" fill="#7eacf7" stroke="#26355c" stroke-width="0.7"/>
<polygon points="549.44,193.1 553.04,196.7 549.44,200.3 545.84,196.7" fill="#7eacf7" stroke="#26355c" stroke-width="0.7"/>
<polygon points="556.21,184.7 559.81,188.3 556.21,191.9 552.61,188.3" fill="#7eacf7" stroke="#26355c" stroke-width="0.7"/>
<polygon points="562.98,177.9 566.58,181.5 562.98,185.1 559.38,181.5" fill="#7eacf7" stroke="#26355c" stroke-width="0.7"/>
<polygon points="569.75,172.3 573.35,175.9 569.75,179.5 566.15,175.9" fill="#7eacf7" stroke="#26355c" stroke-width="0.7"/>
<polygon points="576.52,167.7 580.12,171.3 576.52,174.9 572.92,171.3" fill="#7eacf7" stroke="#26355c" stroke-width="0.7"/>
<polygon points="583.29,163.7 586.89,167.3 583.29,170.9 579.69,167.3" fill="#7eacf7" stroke="#26355c" stroke-width="0.7"/>
<polygon points="590.06,160.4 593.66,164 590.06,167.6 586.46,164" fill="#7eacf7" stroke="#26355c" stroke-width="0.7"/>
<polygon points="596.83,157.8 600.43,161.4 596.83,165 593.23,161.4" fill="#7eacf7" stroke="#26355c" stroke-width="0.7"/>
<polygon points="603.6,155.5 607.2,159.1 603.6,162.7 600,159.1" fill="#7eacf7" stroke="#26355c" stroke-width="0.7"/>
<polygon points="610.37,153.4 613.97,157 610.37,160.6 606.77,157" fill="#7eacf7" stroke="#26355c" stroke-width="0.7"/>
<polygon points="617.14,151.6 620.74,155.2 617.14,158.8 613.54,155.2" fill="#7eacf7" stroke="#26355c" stroke-width="0.7"/>
<polygon points="623.91,150.2 627.51,153.8 623.91,157.4 620.31,153.8" fill="#7eacf7" stroke="#26355c" stroke-width="0.7"/>
<polygon points="630.68,148.8 634.28,152.4 630.68,156 627.08,152.4" fill="#7eacf7" stroke="#26355c" stroke-width="0.7"/>
<polygon points="637.45,147.8 641.05,151.4 637.45,155 633.85,151.4" fill="#7eacf7" stroke="#26355c" stroke-width="0.7"/>
<polygon points="644.22,146.7 647.82,150.3 644.22,153.9 640.62,150.3" fill="#7eacf7" stroke="#26355c" stroke-width="0.7"/>
<polygon points="650.99,145.7 654.59,149.3 650.99,152.9 647.39,149.3" fill="#7eacf7" stroke="#26355c" stroke-width="0.7"/>
<polygon points="657.76,144.8 661.36,148.4 657.76,152 654.16,148.4" fill="#7eacf7" stroke="#26355c" stroke-width="0.7"/>
<polygon points="664.53,143.9 668.13,147.5 664.53,151.1 660.93,147.5" fill="#7eacf7" stroke="#26355c" stroke-width="0.7"/>
<line x1="535.9" y1="193.6" x2="535.9" y2="211.2" stroke="#111" stroke-width="1.15"/>
<line x1="533.7" y1="193.6" x2="538.1" y2="193.6" stroke="#111" stroke-width="1.15"/>
<line x1="533.7" y1="211.2" x2="538.1" y2="211.2" stroke="#111" stroke-width="1.15"/>
<line x1="542.67" y1="177.6" x2="542.67" y2="197" stroke="#111" stroke-width="1.15"/>
<line x1="540.47" y1="177.6" x2="544.87" y2="177.6" stroke="#111" stroke-width="1.15"/>
<line x1="540.47" y1="197" x2="544.87" y2="197" stroke="#111" stroke-width="1.15"/>
<line x1="549.44" y1="167.1" x2="549.44" y2="185.7" stroke="#111" stroke-width="1.15"/>
<line x1="547.24" y1="167.1" x2="551.64" y2="167.1" stroke="#111" stroke-width="1.15"/>
<line x1="547.24" y1="185.7" x2="551.64" y2="185.7" stroke="#111" stroke-width="1.15"/>
<line x1="556.21" y1="159.5" x2="556.21" y2="175.9" stroke="#111" stroke-width="1.15"/>
<line x1="554.01" y1="159.5" x2="558.41" y2="159.5" stroke="#111" stroke-width="1.15"/>
<line x1="554.01" y1="175.9" x2="558.41" y2="175.9" stroke="#111" stroke-width="1.15"/>
<line x1="562.98" y1="153.4" x2="562.98" y2="169.6" stroke="#111" stroke-width="1.15"/>
<line x1="560.78" y1="153.4" x2="565.18" y2="153.4" stroke="#111" stroke-width="1.15"/>
<line x1="560.78" y1="169.6" x2="565.18" y2="169.6" stroke="#111" stroke-width="1.15"/>
<line x1="569.75" y1="148.9" x2="569.75" y2="164.3" stroke="#111" stroke-width="1.15"/>
<line x1="567.55" y1="148.9" x2="571.95" y2="148.9" stroke="#111" stroke-width="1.15"/>
<line x1="567.55" y1="164.3" x2="571.95" y2="164.3" stroke="#111" stroke-width="1.15"/>
<line x1="576.52" y1="145.7" x2="576.52" y2="159.1" stroke="#111" stroke-width="1.15"/>
<line x1="574.32" y1="145.7" x2="578.72" y2="145.7" stroke="#111" stroke-width="1.15"/>
<line x1="574.32" y1="159.1" x2="578.72" y2="159.1" stroke="#111" stroke-width="1.15"/>
<line x1="583.29" y1="142.3" x2="583.29" y2="155.5" stroke="#111" stroke-width="1.15"/>
<line x1="581.09" y1="142.3" x2="585.49" y2="142.3" stroke="#111" stroke-width="1.15"/>
<line x1="581.09" y1="155.5" x2="585.49" y2="155.5" stroke="#111" stroke-width="1.15"/>
<line x1="590.06" y1="139.9" x2="590.06" y2="151.7" stroke="#111" stroke-width="1.15"/>
<line x1="587.86" y1="139.9" x2="592.26" y2="139.9" stroke="#111" stroke-width="1.15"/>
<line x1="587.86" y1="151.7" x2="592.26" y2="151.7" stroke="#111" stroke-width="1.15"/>
<line x1="596.83" y1="137.6" x2="596.83" y2="148.6" stroke="#111" stroke-width="1.15"/>
<line x1="594.63" y1="137.6" x2="599.03" y2="137.6" stroke="#111" stroke-width="1.15"/>
<line x1="594.63" y1="148.6" x2="599.03" y2="148.6" stroke="#111" stroke-width="1.15"/>
<line x1="603.6" y1="136.2" x2="603.6" y2="146.2" stroke="#111" stroke-width="1.15"/>
<line x1="601.4" y1="136.2" x2="605.8" y2="136.2" stroke="#111" stroke-width="1.15"/>
<line x1="601.4" y1="146.2" x2="605.8" y2="146.2" stroke="#111" stroke-width="1.15"/>
<line x1="610.37" y1="135.1" x2="610.37" y2="143.9" stroke="#111" stroke-width="1.15"/>
<line x1="608.17" y1="135.1" x2="612.57" y2="135.1" stroke="#111" stroke-width="1.15"/>
<line x1="608.17" y1="143.9" x2="612.57" y2="143.9" stroke="#111" stroke-width="1.15"/>
<line x1="617.14" y1="134.1" x2="617.14" y2="142.1" stroke="#111" stroke-width="1.15"/>
<line x1="614.94" y1="134.1" x2="619.34" y2="134.1" stroke="#111" stroke-width="1.15"/>
<line x1="614.94" y1="142.1" x2="619.34" y2="142.1" stroke="#111" stroke-width="1.15"/>
<line x1="623.91" y1="133.3" x2="623.91" y2="140.3" stroke="#111" stroke-width="1.15"/>
<line x1="621.71" y1="133.3" x2="626.11" y2="133.3" stroke="#111" stroke-width="1.15"/>
<line x1="621.71" y1="140.3" x2="626.11" y2="140.3" stroke="#111" stroke-width="1.15"/>
<line x1="630.68" y1="132.7" x2="630.68" y2="138.9" stroke="#111" stroke-width="1.15"/>
<line x1="628.48" y1="132.7" x2="632.88" y2="132.7" stroke="#111" stroke-width="1.15"/>
<line x1="628.48" y1="138.9" x2="632.88" y2="138.9" stroke="#111" stroke-width="1.15"/>
<line x1="637.45" y1="131.8" x2="637.45" y2="137.6" stroke="#111" stroke-width="1.15"/>
<line x1="635.25" y1="131.8" x2="639.65" y2="131.8" stroke="#111" stroke-width="1.15"/>
<line x1="635.25" y1="137.6" x2="639.65" y2="137.6" stroke="#111" stroke-width="1.15"/>
<line x1="644.22" y1="131" x2="644.22" y2="136.8" stroke="#111" stroke-width="1.15"/>
<line x1="642.02" y1="131" x2="646.42" y2="131" stroke="#111" stroke-width="1.15"/>
<line x1="642.02" y1="136.8" x2="646.42" y2="136.8" stroke="#111" stroke-width="1.15"/>
<line x1="650.99" y1="131.1" x2="650.99" y2="135.1" stroke="#111" stroke-width="1.15"/>
<line x1="648.79" y1="131.1" x2="653.19" y2="131.1" stroke="#111" stroke-width="1.15"/>
<line x1="648.79" y1="135.1" x2="653.19" y2="135.1" stroke="#111" stroke-width="1.15"/>
<line x1="657.76" y1="130.8" x2="657.76" y2="133.8" stroke="#111" stroke-width="1.15"/>
<line x1="655.56" y1="130.8" x2="659.96" y2="130.8" stroke="#111" stroke-width="1.15"/>
<line x1="655.56" y1="133.8" x2="659.96" y2="133.8" stroke="#111" stroke-width="1.15"/>
<line x1="664.53" y1="130.1" x2="664.53" y2="133.1" stroke="#111" stroke-width="1.15"/>
<line x1="662.33" y1="130.1" x2="666.73" y2="130.1" stroke="#111" stroke-width="1.15"/>
<line x1="662.33" y1="133.1" x2="666.73" y2="133.1" stroke="#111" stroke-width="1.15"/>
<polygon points="539.4,202.4 537.65,205.43 534.15,205.43 532.4,202.4 534.15,199.37 537.65,199.37" fill="#a9ccfb" stroke="#26355c" stroke-width="0.7"/>
<polygon points="546.17,187.3 544.42,190.33 540.92,190.33 539.17,187.3 540.92,184.27 544.42,184.27" fill="#a9ccfb" stroke="#26355c" stroke-width="0.7"/>
<polygon points="552.94,176.4 551.19,179.43 547.69,179.43 545.94,176.4 547.69,173.37 551.19,173.37" fill="#a9ccfb" stroke="#26355c" stroke-width="0.7"/>
<polygon points="559.71,167.7 557.96,170.73 554.46,170.73 552.71,167.7 554.46,164.67 557.96,164.67" fill="#a9ccfb" stroke="#26355c" stroke-width="0.7"/>
<polygon points="566.48,161.5 564.73,164.53 561.23,164.53 559.48,161.5 561.23,158.47 564.73,158.47" fill="#a9ccfb" stroke="#26355c" stroke-width="0.7"/>
<polygon points="573.25,156.6 571.5,159.63 568,159.63 566.25,156.6 568,153.57 571.5,153.57" fill="#a9ccfb" stroke="#26355c" stroke-width="0.7"/>
<polygon points="580.02,152.4 578.27,155.43 574.77,155.43 573.02,152.4 574.77,149.37 578.27,149.37" fill="#a9ccfb" stroke="#26355c" stroke-width="0.7"/>
<polygon points="586.79,148.9 585.04,151.93 581.54,151.93 579.79,148.9 581.54,145.87 585.04,145.87" fill="#a9ccfb" stroke="#26355c" stroke-width="0.7"/>
<polygon points="593.56,145.8 591.81,148.83 588.31,148.83 586.56,145.8 588.31,142.77 591.81,142.77" fill="#a9ccfb" stroke="#26355c" stroke-width="0.7"/>
<polygon points="600.33,143.1 598.58,146.13 595.08,146.13 593.33,143.1 595.08,140.07 598.58,140.07" fill="#a9ccfb" stroke="#26355c" stroke-width="0.7"/>
<polygon points="607.1,141.2 605.35,144.23 601.85,144.23 600.1,141.2 601.85,138.17 605.35,138.17" fill="#a9ccfb" stroke="#26355c" stroke-width="0.7"/>
<polygon points="613.87,139.5 612.12,142.53 608.62,142.53 606.87,139.5 608.62,136.47 612.12,136.47" fill="#a9ccfb" stroke="#26355c" stroke-width="0.7"/>
<polygon points="620.64,138.1 618.89,141.13 615.39,141.13 613.64,138.1 615.39,135.07 618.89,135.07" fill="#a9ccfb" stroke="#26355c" stroke-width="0.7"/>
<polygon points="627.41,136.8 625.66,139.83 622.16,139.83 620.41,136.8 622.16,133.77 625.66,133.77" fill="#a9ccfb" stroke="#26355c" stroke-width="0.7"/>
<polygon points="634.18,135.8 632.43,138.83 628.93,138.83 627.18,135.8 628.93,132.77 632.43,132.77" fill="#a9ccfb" stroke="#26355c" stroke-width="0.7"/>
<polygon points="640.95,134.7 639.2,137.73 635.7,137.73 633.95,134.7 635.7,131.67 639.2,131.67" fill="#a9ccfb" stroke="#26355c" stroke-width="0.7"/>
<polygon points="647.72,133.9 645.97,136.93 642.47,136.93 640.72,133.9 642.47,130.87 645.97,130.87" fill="#a9ccfb" stroke="#26355c" stroke-width="0.7"/>
<polygon points="654.49,133.1 652.74,136.13 649.24,136.13 647.49,133.1 649.24,130.07 652.74,130.07" fill="#a9ccfb" stroke="#26355c" stroke-width="0.7"/>
<polygon points="661.26,132.3 659.51,135.33 656.01,135.33 654.26,132.3 656.01,129.27 659.51,129.27" fill="#a9ccfb" stroke="#26355c" stroke-width="0.7"/>
<polygon points="668.03,131.6 666.28,134.63 662.78,134.63 661.03,131.6 662.78,128.57 666.28,128.57" fill="#a9ccfb" stroke="#26355c" stroke-width="0.7"/>
<rect x="444.3" y="19.2" width="231.5" height="231" fill="none" stroke="#000" stroke-width="2.1"/>
<line x1="437.3" y1="250.2" x2="444.3" y2="250.2" stroke="#000" stroke-width="2.1"/>
<text font-size="16" text-anchor="end" x="433.7" y="255.8">0.0</text>
<line x1="437.3" y1="173.2" x2="444.3" y2="173.2" stroke="#000" stroke-width="2.1"/>
<text font-size="16" text-anchor="end" x="433.7" y="178.8">0.5</text>
<line x1="437.3" y1="96.2" x2="444.3" y2="96.2" stroke="#000" stroke-width="2.1"/>
<text font-size="16" text-anchor="end" x="433.7" y="101.8">1.0</text>
<line x1="437.3" y1="19.2" x2="444.3" y2="19.2" stroke="#000" stroke-width="2.1"/>
<text font-size="16" text-anchor="end" x="433.7" y="24.8">1.5</text>
<line x1="444.3" y1="250.2" x2="444.3" y2="257.2" stroke="#000" stroke-width="2.1"/>
<text font-size="16" text-anchor="middle" x="445.1" y="273.9">-10</text>
<line x1="502.18" y1="250.2" x2="502.18" y2="257.2" stroke="#000" stroke-width="2.1"/>
<text font-size="16" text-anchor="middle" x="502.18" y="273.9">0</text>
<line x1="560.05" y1="250.2" x2="560.05" y2="257.2" stroke="#000" stroke-width="2.1"/>
<text font-size="16" text-anchor="middle" x="560.05" y="273.9">10</text>
<line x1="617.92" y1="250.2" x2="617.92" y2="257.2" stroke="#000" stroke-width="2.1"/>
<text font-size="16" text-anchor="middle" x="617.92" y="273.9">20</text>
<line x1="675.8" y1="250.2" x2="675.8" y2="257.2" stroke="#000" stroke-width="2.1"/>
<text font-size="16" text-anchor="middle" x="675.8" y="273.9">30</text>
<text font-size="16" text-anchor="middle" x="559.8" y="290.8">Time (s)</text>
<text font-size="16" text-anchor="middle" transform="translate(405.4 135.7) rotate(-90)">Relative intensity</text>
<rect x="583.8" y="27.6" width="83.6" height="62" fill="#fff" stroke="#222" stroke-width="0.8"/>
<polygon points="596.7,39 594.75,42.38 590.85,42.38 588.9,39 590.85,35.62 594.75,35.62" fill="#a9ccfb" stroke="#26355c" stroke-width="0.7"/>
<polygon points="592.8,54.2 597,58.4 592.8,62.6 588.6,58.4" fill="#7eacf7" stroke="#26355c" stroke-width="0.7"/>
<circle cx="592.8" cy="77.8" r="4.2" fill="#5b92f4" stroke="#26355c" stroke-width="0.7"/>
<text font-size="16" x="601.5" y="44.2">Cy<tspan font-size="10" dy="3.4">3</tspan><tspan dy="-3.4">-8nt</tspan></text>
<text font-size="16" x="601.5" y="63.6">Cy<tspan font-size="10" dy="3.4">3</tspan><tspan dy="-3.4">-16nt</tspan></text>
<text font-size="16" x="601.5" y="83">Cy<tspan font-size="10" dy="3.4">3</tspan><tspan dy="-3.4">-32nt</tspan></text>
<g clip-path="url(#c1)">
<rect x="452.2" y="195.9" width="46" height="45.4" fill="#000"/>
<g filter="url(#bl2)">
<ellipse cx="474.2" cy="217.6" rx="16.9" ry="19.2" fill="url(#g1)"/>
<ellipse cx="474.2" cy="217.6" rx="16.9" ry="19.2" fill="url(#g2)"/>
<ellipse cx="473.2" cy="222.1" rx="12" ry="12" fill="url(#g3)"/>
</g>
<line x1="486.8" y1="197.2" x2="497.2" y2="197.2" stroke="#fff" stroke-width="1.7"/>
</g>
<text font-size="16" fill="#fff" x="454" y="210.1">0 s</text>
<g clip-path="url(#c2)">
<rect x="574.2" y="195.9" width="46" height="45.4" fill="#000"/>
<g filter="url(#bl2)">
<ellipse cx="596.2" cy="217.6" rx="16.9" ry="19.2" fill="url(#g4)"/>
<ellipse cx="596.2" cy="217.6" rx="16.9" ry="19.2" fill="url(#g5)"/>
<circle cx="598" cy="218.2" r="9.5" fill="url(#g6)"/>
</g>
<line x1="608.8" y1="197.2" x2="619.2" y2="197.2" stroke="#fff" stroke-width="1.7"/>
</g>
<text font-size="16" fill="#fff" x="576" y="210.1">5 s</text>
<g clip-path="url(#c3)">
<rect x="622.2" y="195.9" width="46" height="45.4" fill="#000"/>
<g filter="url(#bl2)">
<ellipse cx="644.3" cy="217.6" rx="16.9" ry="19.2" fill="url(#g7)"/>
<ellipse cx="644.3" cy="217.6" rx="16.9" ry="19.2" fill="url(#g8)"/>
</g>
<line x1="656.8" y1="197.2" x2="667.2" y2="197.2" stroke="#fff" stroke-width="1.7"/>
</g>
<text font-size="16" fill="#fff" x="624" y="210.1">15 s</text>
<rect x="38" y="661" width="57.7" height="20" fill="#cbcbcb"/>
<rect x="98.8" y="661" width="57.6" height="20" fill="#cbcbcb"/>
<text font-size="16" text-anchor="middle" x="66.85" y="677">5 s</text>
<text font-size="16" text-anchor="middle" x="127.6" y="677">30 s</text>
<rect x="19" y="681" width="19" height="57" fill="#cbcbcb"/>
<rect x="19" y="741.6" width="19" height="57.1" fill="#cbcbcb"/>
<text font-size="16" text-anchor="middle" transform="translate(32.8 709.5) rotate(-90)">R<tspan font-size="10" dy="3.4">4</tspan></text>
<text font-size="16" text-anchor="middle" transform="translate(32.8 770.15) rotate(-90)">R<tspan font-size="10" dy="3.4">8</tspan></text>
<g clip-path="url(#c4)">
<rect x="38" y="681" width="57.7" height="57" fill="#000"/>
<g filter="url(#bl)">
<ellipse cx="51.4" cy="679.6" rx="7.9" ry="7.9" fill="#707070"/>
<ellipse cx="83" cy="680.6" rx="10.6" ry="10.6" fill="#7a7a7a"/>
<ellipse cx="99.4" cy="701.5" rx="10.2" ry="10.2" fill="#767676"/>
<ellipse cx="33.3" cy="719.6" rx="12.9" ry="12.9" fill="#808080"/>
<ellipse cx="65.9" cy="710.1" rx="18.4" ry="18.4" fill="#8c8c8c"/>
<circle cx="69.3" cy="709.7" r="12.5" fill="url(#g9)"/>
</g>
<line x1="82.1" y1="736.9" x2="95.1" y2="736.9" stroke="#fff" stroke-width="1.7"/>
</g>
<g clip-path="url(#c5)">
<rect x="98.8" y="681" width="57.6" height="57" fill="#000"/>
<g filter="url(#bl)">
<ellipse cx="112.4" cy="679.6" rx="7.9" ry="7.9" fill="#707070"/>
<ellipse cx="144" cy="680.6" rx="10.6" ry="10.6" fill="#7a7a7a"/>
<ellipse cx="160.4" cy="701.5" rx="10.2" ry="10.2" fill="#767676"/>
<ellipse cx="94.3" cy="719.6" rx="12.9" ry="12.9" fill="#808080"/>
<ellipse cx="126.9" cy="710.2" rx="19" ry="19" fill="url(#g10)"/>
</g>
<line x1="142.8" y1="736.9" x2="155.8" y2="736.9" stroke="#fff" stroke-width="1.7"/>
</g>
<g clip-path="url(#c6)">
<rect x="38" y="741.6" width="57.7" height="57.1" fill="#000"/>
<g filter="url(#bl)">
<ellipse cx="87.1" cy="746.7" rx="8.8" ry="8.8" fill="#868686"/>
<ellipse cx="57.3" cy="794.2" rx="5.2" ry="5.2" fill="#525252"/>
<ellipse cx="42.8" cy="798.6" rx="5" ry="5" fill="#646464"/>
<ellipse cx="38.3" cy="741.6" rx="2.2" ry="2.2" fill="#5f5f5f"/>
<ellipse cx="66.8" cy="770.7" rx="20.5" ry="20.5" fill="url(#g11)"/>
<circle cx="68.8" cy="771.1" r="11.5" fill="url(#g12)"/>
</g>
<line x1="82.1" y1="797.6" x2="95.1" y2="797.6" stroke="#fff" stroke-width="1.7"/>
</g>
<g clip-path="url(#c7)">
<rect x="98.8" y="741.6" width="57.6" height="57.1" fill="#000"/>
<g filter="url(#bl)">
<ellipse cx="148.1" cy="746.7" rx="8.8" ry="8.8" fill="#868686"/>
<ellipse cx="118.3" cy="794.2" rx="5.2" ry="5.2" fill="#525252"/>
<ellipse cx="103.8" cy="798.6" rx="5" ry="5" fill="#646464"/>
<ellipse cx="99.3" cy="741.6" rx="2.2" ry="2.2" fill="#5f5f5f"/>
<ellipse cx="127.8" cy="770.7" rx="20.5" ry="20.5" fill="url(#g13)"/>
<circle cx="129.2" cy="771" r="11.5" fill="url(#g14)"/>
</g>
<line x1="142.8" y1="797.6" x2="155.8" y2="797.6" stroke="#fff" stroke-width="1.7"/>
</g>
<text font-size="16" text-anchor="end" x="156.4" y="813.6">with DNA<tspan font-size="10" dy="3.4">16</tspan></text>
<rect x="298" y="661" width="57.7" height="20" fill="#cbcbcb"/>
<rect x="358.8" y="661" width="57.6" height="20" fill="#cbcbcb"/>
<text font-size="16" text-anchor="middle" x="326.85" y="677">5 s</text>
<text font-size="16" text-anchor="middle" x="387.6" y="677">30 s</text>
<rect x="279" y="681" width="19" height="57" fill="#cbcbcb"/>
<rect x="279" y="741.6" width="19" height="57.1" fill="#cbcbcb"/>
<text font-size="16" text-anchor="middle" transform="translate(292.8 709.5) rotate(-90)">DNA<tspan font-size="10" dy="3.4">8</tspan></text>
<text font-size="16" text-anchor="middle" transform="translate(292.8 770.15) rotate(-90)">RNA<tspan font-size="10" dy="3.4">8</tspan></text>
<g clip-path="url(#c8)">
<rect x="298" y="681" width="57.7" height="57" fill="#000"/>
<g filter="url(#bl)">
<ellipse cx="298.7" cy="683.4" rx="5.2" ry="5.2" fill="#767676"/>
<ellipse cx="294.3" cy="727.8" rx="9.2" ry="9.2" fill="#787878"/>
<ellipse cx="356.4" cy="686.1" rx="6" ry="6" fill="#878787"/>
<ellipse cx="358.4" cy="707.9" rx="6" ry="6" fill="#5a5a5a"/>
<ellipse cx="325.9" cy="708.8" rx="17.3" ry="19" fill="url(#g15)"/>
<circle cx="327.2" cy="710.6" r="11.8" fill="url(#g16)"/>
</g>
<line x1="342.1" y1="736.9" x2="355.1" y2="736.9" stroke="#fff" stroke-width="1.7"/>
</g>
<g clip-path="url(#c9)">
<rect x="358.8" y="681" width="57.6" height="57" fill="#000"/>
<g filter="url(#bl)">
<ellipse cx="359.7" cy="683.4" rx="5.2" ry="5.2" fill="#767676"/>
<ellipse cx="355.3" cy="727.8" rx="9.2" ry="9.2" fill="#787878"/>
<ellipse cx="417.4" cy="686.1" rx="6" ry="6" fill="#878787"/>
<ellipse cx="419.4" cy="707.9" rx="6" ry="6" fill="#5a5a5a"/>
<ellipse cx="386.9" cy="708.8" rx="17.3" ry="19" fill="url(#g17)"/>
</g>
<line x1="402.8" y1="736.9" x2="415.8" y2="736.9" stroke="#fff" stroke-width="1.7"/>
</g>
<g clip-path="url(#c10)">
<rect x="298" y="741.6" width="57.7" height="57.1" fill="#000"/>
<g filter="url(#bl)">
<ellipse cx="359.8" cy="788.8" rx="10" ry="10" fill="#aaaaaa"/>
<ellipse cx="326.3" cy="770.2" rx="24" ry="25.6" fill="url(#g18)"/>
<circle cx="327.7" cy="768.4" r="13.5" fill="url(#g19)"/>
</g>
<line x1="342.1" y1="797.6" x2="355.1" y2="797.6" stroke="#fff" stroke-width="1.7"/>
</g>
<g clip-path="url(#c11)">
<rect x="358.8" y="741.6" width="57.6" height="57.1" fill="#000"/>
<g filter="url(#bl)">
<ellipse cx="420.8" cy="788.8" rx="10" ry="10" fill="#aaaaaa"/>
<ellipse cx="387.3" cy="770.2" rx="24" ry="25.6" fill="url(#g20)"/>
<circle cx="388.3" cy="768.8" r="15.5" fill="url(#g21)"/>
</g>
<line x1="402.8" y1="797.6" x2="415.8" y2="797.6" stroke="#fff" stroke-width="1.7"/>
</g>
<text font-size="16" text-anchor="end" x="416.4" y="813.6">with R<tspan font-size="10" dy="3.4">4</tspan></text>
<rect x="558" y="661" width="57.7" height="20" fill="#cbcbcb"/>
<rect x="618.8" y="661" width="57.6" height="20" fill="#cbcbcb"/>
<text font-size="16" text-anchor="middle" x="586.85" y="677">5 s</text>
<text font-size="16" text-anchor="middle" x="647.6" y="677">30 s</text>
<rect x="539" y="681" width="19" height="57" fill="#cbcbcb"/>
<rect x="539" y="741.6" width="19" height="57.1" fill="#cbcbcb"/>
<text font-size="16" text-anchor="middle" transform="translate(552.8 709.5) rotate(-90)">dA<tspan font-size="10" dy="3.4">12</tspan></text>
<text font-size="16" text-anchor="middle" transform="translate(552.8 770.15) rotate(-90)">DNA<tspan font-size="10" dy="3.4">12</tspan></text>
<g clip-path="url(#c12)">
<rect x="558" y="681" width="57.7" height="57" fill="#000"/>
<g filter="url(#bl)">
<ellipse cx="585" cy="709.7" rx="21" ry="22.6" fill="url(#g22)"/>
<circle cx="588.1" cy="712.4" r="14.5" fill="url(#g23)"/>
<polygon points="558.3,735 561.5,738 558.3,738" fill="#666"/>
</g>
<line x1="602.1" y1="736.9" x2="615.1" y2="736.9" stroke="#fff" stroke-width="1.7"/>
</g>
<g clip-path="url(#c13)">
<rect x="618.8" y="681" width="57.6" height="57" fill="#000"/>
<g filter="url(#bl)">
<ellipse cx="645.8" cy="709.7" rx="21" ry="22.6" fill="url(#g24)"/>
<polygon points="619,735 622.2,738 619,738" fill="#666"/>
</g>
<line x1="662.8" y1="736.9" x2="675.8" y2="736.9" stroke="#fff" stroke-width="1.7"/>
</g>
<g clip-path="url(#c14)">
<rect x="558" y="741.6" width="57.7" height="57.1" fill="#000"/>
<g filter="url(#bl)">
<ellipse cx="586.8" cy="769.8" rx="21.5" ry="22.5" fill="url(#g25)"/>
<circle cx="588.3" cy="770.9" r="8.6" fill="url(#g26)"/>
</g>
<line x1="606.1" y1="797.6" x2="615.1" y2="797.6" stroke="#fff" stroke-width="1.7"/>
</g>
<g clip-path="url(#c15)">
<rect x="618.8" y="741.6" width="57.6" height="57.1" fill="#000"/>
<g filter="url(#bl)">
<ellipse cx="647.3" cy="769.8" rx="21.3" ry="22.3" fill="url(#g27)"/>
<circle cx="649.1" cy="770.9" r="8.6" fill="url(#g28)"/>
</g>
<line x1="666.8" y1="797.6" x2="675.8" y2="797.6" stroke="#fff" stroke-width="1.7"/>
</g>
<text font-size="16" text-anchor="end" x="676.4" y="813.6">with R<tspan font-size="10" dy="3.4">6</tspan></text>
</svg>
</body>
</html>
